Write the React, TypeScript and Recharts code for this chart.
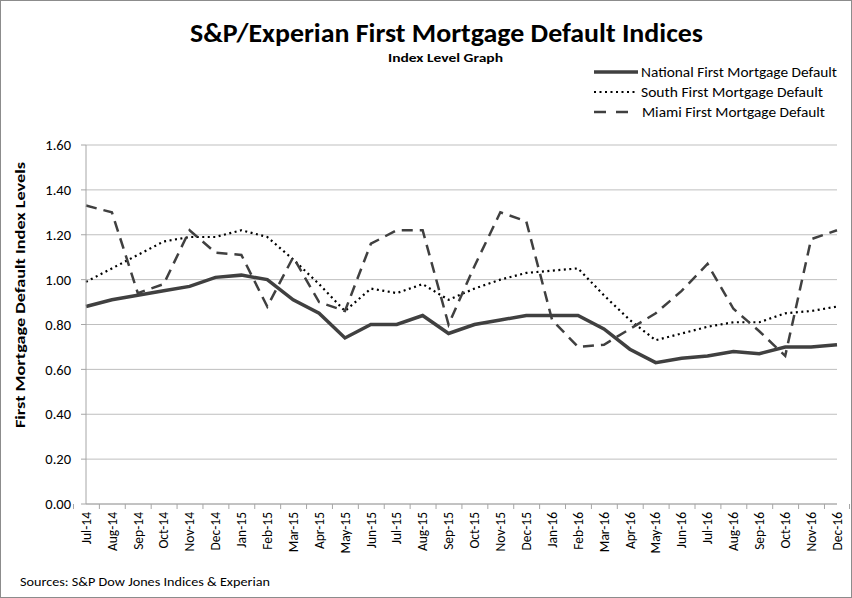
import React from 'react';
import { LineChart, Line, XAxis, YAxis, CartesianGrid } from 'recharts';

const categories = ['Jul-14','Aug-14','Sep-14','Oct-14','Nov-14','Dec-14','Jan-15','Feb-15','Mar-15','Apr-15','May-15','Jun-15','Jul-15','Aug-15','Sep-15','Oct-15','Nov-15','Dec-15','Jan-16','Feb-16','Mar-16','Apr-16','May-16','Jun-16','Jul-16','Aug-16','Sep-16','Oct-16','Nov-16','Dec-16'];
const national = [0.88,0.91,0.93,0.95,0.97,1.01,1.02,1.00,0.91,0.85,0.74,0.80,0.80,0.84,0.76,0.80,0.82,0.84,0.84,0.84,0.78,0.69,0.63,0.65,0.66,0.68,0.67,0.70,0.70,0.71];
const south = [0.99,1.05,1.11,1.17,1.19,1.19,1.22,1.19,1.09,0.98,0.86,0.96,0.94,0.98,0.91,0.96,1.00,1.03,1.04,1.05,0.93,0.82,0.73,0.76,0.79,0.81,0.81,0.85,0.86,0.88];
const miami = [1.33,1.30,0.94,0.98,1.22,1.12,1.11,0.88,1.10,0.90,0.86,1.16,1.22,1.22,0.80,1.06,1.30,1.26,0.82,0.70,0.71,0.78,0.85,0.95,1.07,0.87,0.77,0.66,1.18,1.22];
const yTicks = [0, 0.2, 0.4, 0.6, 0.8, 1.0, 1.2, 1.4, 1.6];
const seriesNames = ['National First Mortgage Default', 'South First Mortgage Default', 'Miami First Mortgage Default'];

const data = categories.map((c, i) => ({ month: c, national: national[i], south: south[i], miami: miami[i] }));

const FONT = "Carlito, Lato, 'Liberation Sans', sans-serif";

const XTick = (props: any) => {
  const { x, y, payload, index, width } = props;
  const band = (width || 751) / categories.length;
  const axisY = y - 8;
  return (
    <g>
      <line x1={x - band / 2} x2={x - band / 2} y1={axisY} y2={axisY + 5} stroke="#a6a6a6" />
      {index === categories.length - 1 && (
        <line x1={x + band / 2} x2={x + band / 2} y1={axisY} y2={axisY + 5} stroke="#a6a6a6" />
      )}
      <text x={x} y={y} transform={`rotate(-90 ${x} ${y})`} textAnchor="end" dy="0.35em" fontSize={13.5} fill="#000" fontFamily={FONT}>
        {payload.value}
      </text>
    </g>
  );
};

export default function App() {
  return (
    <div style={{ position: 'absolute', left: 0, top: 0, width: 852, height: 598, boxSizing: 'border-box', border: '1px solid #8c8c8c', background: '#fff', fontFamily: FONT }}>
      <LineChart width={850} height={596} data={data} margin={{ top: 144, right: 14, bottom: 33, left: 25 }}>
        <CartesianGrid vertical={false} stroke="#bfbfbf" strokeWidth={1} />
        <XAxis
          dataKey="month"
          interval={0}
          height={60}
          tickLine={false}
          tickSize={5}
          tickMargin={3}
          stroke="#a6a6a6"
          tick={<XTick />}
        />
        <YAxis
          domain={[0, 1.6]}
          ticks={yTicks}
          width={60}
          tickSize={5}
          tickMargin={10}
          stroke="#a6a6a6"
          tickFormatter={(v: number) => v.toFixed(2)}
          tick={{ fontSize: 14.5, fill: '#000', fontFamily: FONT }}
        />
        <Line dataKey="national" name={seriesNames[0]} stroke="#404040" strokeWidth={3.5} dot={false} isAnimationActive={false} />
        <Line dataKey="south" name={seriesNames[1]} stroke="#000" strokeWidth={2.2} strokeDasharray="2 3.5" dot={false} isAnimationActive={false} />
        <Line dataKey="miami" name={seriesNames[2]} stroke="#404040" strokeWidth={2.5} strokeDasharray="11 7" dot={false} isAnimationActive={false} />
      </LineChart>
      <svg width={852} height={598} style={{ position: 'absolute', left: -1, top: -1, pointerEvents: 'none' }}>
        <text x={190} y={42} fontSize={26} fontWeight="bold" fontFamily={FONT} textLength={513} lengthAdjust="spacingAndGlyphs" fill="#000">
          S&amp;P/Experian First Mortgage Default Indices
        </text>
        <text x={388} y={62} fontSize={12.5} fontWeight="bold" fontFamily={FONT} textLength={115} lengthAdjust="spacingAndGlyphs" fill="#000">
          Index Level Graph
        </text>
        <line x1={594} x2={638} y1={72} y2={72} stroke="#404040" strokeWidth={3.5} />
        <line x1={594} x2={638} y1={92} y2={92} stroke="#000" strokeWidth={2.2} strokeDasharray="2 3.5" />
        <line x1={594} x2={632} y1={112} y2={112} stroke="#404040" strokeWidth={2.5} strokeDasharray="12 10" />
        <text x={641} y={77} fontSize={14} fontFamily={FONT} textLength={196} lengthAdjust="spacingAndGlyphs" fill="#000">{seriesNames[0]}</text>
        <text x={641} y={97} fontSize={14} fontFamily={FONT} textLength={182} lengthAdjust="spacingAndGlyphs" fill="#000">{seriesNames[1]}</text>
        <text x={642} y={117} fontSize={14} fontFamily={FONT} textLength={183} lengthAdjust="spacingAndGlyphs" fill="#000">{seriesNames[2]}</text>
        <text x={20} y={295} transform="rotate(-90 20 295)" textAnchor="middle" dy="0.35em" fontSize={13.5} fontWeight="bold" fontFamily={FONT} textLength={266} lengthAdjust="spacingAndGlyphs" fill="#000">
          First Mortgage Default Index Levels
        </text>
        <text x={20} y={586} fontSize={13} fontFamily={FONT} textLength={250} lengthAdjust="spacingAndGlyphs" fill="#000">
          Sources: S&amp;P Dow Jones Indices &amp; Experian
        </text>
      </svg>
    </div>
  );
}
